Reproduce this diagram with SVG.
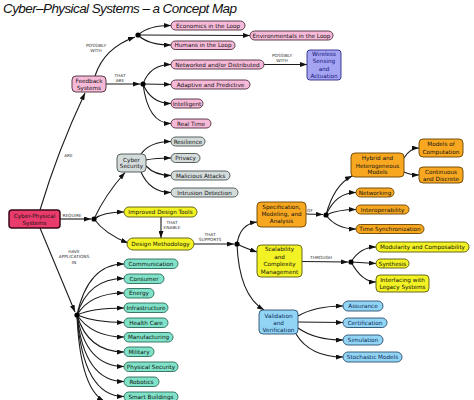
<svg xmlns="http://www.w3.org/2000/svg" width="474" height="400" viewBox="0 0 474 400">
<defs>
<marker id="ah" markerUnits="userSpaceOnUse" markerWidth="7" markerHeight="5" refX="7" refY="2.5" orient="auto"><path d="M0,0 L7,2.5 L0,5 z" fill="#111"/></marker>
<style>
text{font-family:"DejaVu Sans","Liberation Sans",sans-serif;font-size:5.7px;text-anchor:middle;fill:#111}
.lb{font-size:4.3px;fill:#333}
.ttl{font-family:"Liberation Sans",Arial,sans-serif;font-style:italic;font-size:13.5px;text-anchor:start;fill:#111}
.c path{fill:none;stroke:#1a1a1a;stroke-width:1.1;marker-end:url(#ah)}
.c circle{fill:#000}
.pk rect{fill:#f6bad8;stroke:#4a2a3a;stroke-width:0.9}
.lv rect{fill:#a4a4f2;stroke:#2a2a8a;stroke-width:0.9}
.lv text{fill:#15157a}
.gy rect{fill:#d3dbdb;stroke:#4a5050;stroke-width:0.9}
.cr rect{fill:#ea3c6c;stroke:#3a0a1a;stroke-width:1.5}
.yl rect{fill:#f2f224;stroke:#5a5a10;stroke-width:0.9}
.or rect{fill:#f8a820;stroke:#6a4200;stroke-width:0.9}
.lb2 rect{fill:#92d4f4;stroke:#2a5070;stroke-width:0.9}
.lb2 text{fill:#0a2a55}
.tl rect{fill:#80e2c8;stroke:#2a6a5a;stroke-width:0.9}
</style>
</defs>
<rect width="474" height="400" fill="#fff"/>
<text class="ttl" x="3" y="13" textLength="234">Cyber–Physical Systems – a Concept Map</text>

<g id="connectors" class="c">
<path d="M40,210 Q58,150 85,93"/>
<path d="M60,219 L91,219"/>
<path d="M40,228 L75,312"/>
<path d="M95,76 Q104,48 135,37"/>
<path d="M106,84 L140,84"/>
<path d="M138,35 Q148,25.5 171,25.5"/>
<path d="M138,35 L250,35.5"/>
<path d="M138,35 Q148,45 171,45"/>
<path d="M143,84 Q150,64.5 171,64.5"/>
<path d="M143,84 L171,84.5"/>
<path d="M143,84 Q151,103.5 171,103.5"/>
<path d="M143,84 Q148,123.5 171,123.5"/>
<path d="M264,64.5 L307,64.5"/>
<path d="M94,219 Q105,195 125,172.5"/>
<path d="M94,219 Q103,212 124,212"/>
<path d="M94,219 Q105,234 128,243"/>
<path d="M141,154 Q150,141.5 171,141.5"/>
<path d="M146,160 Q155,158 171,158"/>
<path d="M146,166 Q155,175.5 171,175.5"/>
<path d="M141,172 Q150,192.5 171,192.5"/>
<path d="M161,217 L161,238"/>
<path d="M194,244 L234,244"/>
<path d="M237,244 Q240,224 257,222"/>
<path d="M237,244 Q245,248 257,252"/>
<path d="M237,244 Q239,295 264,310"/>
<path d="M306,214 L323,214.5"/>
<path d="M326,215 Q334,185 352,176"/>
<path d="M326,215 Q336,192.5 356,192.5"/>
<path d="M326,215 Q338,209.5 356,209.5"/>
<path d="M326,215 Q336,229 356,229"/>
<path d="M404,158 Q410,148 419,148"/>
<path d="M404,172 Q410,175 419,175"/>
<path d="M302,261.5 L348,262"/>
<path d="M351,262 Q360,247 376,247"/>
<path d="M351,262 L376,263.5"/>
<path d="M351,262 Q362,282 376,282"/>
<path d="M298,316 Q315,306 343,306"/>
<path d="M298,322 L343,322.5"/>
<path d="M298,328 Q315,340 343,340"/>
<path d="M296,334 Q310,357 343,357"/>
<path d="M77,315 Q88,264 124,264"/>
<path d="M77,315 Q88,278.5 124,278.5"/>
<path d="M77,315 Q90,293 124,293"/>
<path d="M77,315 Q92,308 124,308"/>
<path d="M77,315 Q95,322.5 124,322.5"/>
<path d="M77,315 Q92,337 124,337"/>
<path d="M77,315 Q88,352 124,352"/>
<path d="M77,315 Q86,366.5 124,366.5"/>
<path d="M77,315 Q84,381.5 124,381.5"/>
<path d="M77,315 Q83,396.5 124,396.5"/>
<path d="M77,315 Q80,388 104,401"/>
<circle cx="138" cy="35" r="2.6"/>
<circle cx="143" cy="84" r="2.6"/>
<circle cx="94" cy="219" r="2.6"/>
<circle cx="237" cy="244" r="2.6"/>
<circle cx="326" cy="215" r="2.6"/>
<circle cx="351" cy="262" r="2.6"/>
<circle cx="77" cy="315" r="2.6"/>
</g>

<g id="labels">
<text class="lb" x="96" y="47">POSSIBLY</text><text class="lb" x="96" y="52">WITH</text>
<text class="lb" x="120" y="77">THAT</text><text class="lb" x="120" y="82">ARE</text>
<text class="lb" x="282" y="57">POSSIBLY</text><text class="lb" x="282" y="62">WITH</text>
<text class="lb" x="68.5" y="157">ARE</text>
<text class="lb" x="72" y="217">REQUIRE</text>
<text class="lb" x="172" y="223.5">THAT</text><text class="lb" x="172" y="228.5">ENABLE</text>
<text class="lb" x="210" y="236">THAT</text><text class="lb" x="210" y="241">SUPPORTS</text>
<text class="lb" x="74" y="253">HAVE</text><text class="lb" x="74" y="258">APPLICATIONS</text><text class="lb" x="74" y="264">IN</text>
<text class="lb" x="310" y="211.5">OF</text>
<text class="lb" x="321" y="259">THROUGH</text>
</g>

<g id="cps" class="cr"><rect x="9" y="210" width="51" height="18" rx="3"/><text x="34.5" y="218">Cyber-Physical</text><text x="34.5" y="224.7">Systems</text></g>

<g id="feedback" class="pk"><rect x="72" y="76" width="34" height="16" rx="4"/><text x="89" y="83">Feedback</text><text x="89" y="89.5">Systems</text></g>
<g id="economics" class="pk"><rect x="171" y="21" width="74" height="9" rx="4.5"/><text x="208" y="27.5">Economics in the Loop</text></g>
<g id="environmentals" class="pk"><rect x="250" y="31" width="83" height="9" rx="4.5"/><text x="291.5" y="37.5">Environmentals in the Loop</text></g>
<g id="humans" class="pk"><rect x="171" y="41" width="64" height="8.5" rx="4.25"/><text x="203" y="47.2">Humans in the Loop</text></g>
<g id="networked" class="pk"><rect x="171" y="60" width="93" height="9" rx="4.5"/><text x="217.5" y="66.5">Networked and/or Distributed</text></g>
<g id="adaptive" class="pk"><rect x="171" y="80" width="79" height="9" rx="4.5"/><text x="210.5" y="86.5">Adaptive and Predictive</text></g>
<g id="intelligent" class="pk"><rect x="171" y="99" width="32" height="9" rx="4.5"/><text x="187" y="105.5">Intelligent</text></g>
<g id="realtime" class="pk"><rect x="171" y="119" width="40" height="9" rx="4.5"/><text x="191" y="125.5">Real Time</text></g>
<g id="wireless" class="lv"><rect x="307" y="50" width="34" height="30" rx="3"/><text x="324" y="55.5">Wireless</text><text x="324" y="63">Sensing</text><text x="324" y="70.5">and</text><text x="324" y="78">Actuation</text></g>

<g id="cybersecurity" class="gy"><rect x="117" y="154" width="29" height="18" rx="4"/><text x="131.5" y="161.5">Cyber</text><text x="131.5" y="168.3">Security</text></g>
<g id="resilience" class="gy"><rect x="171" y="137" width="34" height="9" rx="4.5"/><text x="188" y="143.5">Resilience</text></g>
<g id="privacy" class="gy"><rect x="171" y="153.5" width="29" height="9" rx="4.5"/><text x="185.5" y="160">Privacy</text></g>
<g id="malicious" class="gy"><rect x="171" y="171" width="59" height="9" rx="4.5"/><text x="200.5" y="177.5">Malicious Attacks</text></g>
<g id="intrusion" class="gy"><rect x="171" y="188" width="67" height="9" rx="4.5"/><text x="204.5" y="194.5">Intrusion Detection</text></g>

<g id="improved" class="yl"><rect x="124" y="207" width="73" height="10" rx="5"/><text x="160.5" y="214">Improved Design Tools</text></g>
<g id="designmeth" class="yl"><rect x="127" y="238" width="67" height="12" rx="6"/><text x="160.5" y="246">Design Methodology</text></g>
<g id="scalability" class="yl"><rect x="257" y="245" width="45" height="32" rx="4"/><text x="279.5" y="251">Scalability</text><text x="279.5" y="258.5">and</text><text x="279.5" y="266">Complexity</text><text x="279.5" y="273.5">Management</text></g>
<g id="modularity" class="yl"><rect x="376" y="242" width="93" height="10" rx="5"/><text x="422.5" y="249">Modularity and Composability</text></g>
<g id="synthesis" class="yl"><rect x="376" y="259" width="33" height="9" rx="4.5"/><text x="392.5" y="265.5">Synthesis</text></g>
<g id="interfacing" class="yl"><rect x="376" y="275" width="53" height="17" rx="4"/><text x="402.5" y="282">Interfacing with</text><text x="402.5" y="289">Legacy Systems</text></g>

<g id="specification" class="or"><rect x="257" y="202" width="49" height="25" rx="4"/><text x="281.5" y="208.7">Specification,</text><text x="281.5" y="216">Modeling, and</text><text x="281.5" y="222.7">Analysis</text></g>
<g id="hybrid" class="or"><rect x="351" y="153" width="53" height="24" rx="4"/><text x="377.5" y="160.3">Hybrid and</text><text x="377.5" y="167.7">Heterogeneous</text><text x="377.5" y="174.3">Models</text></g>
<g id="models" class="or"><rect x="419" y="139" width="44" height="18" rx="4"/><text x="441" y="146">Models of</text><text x="441" y="154">Computation</text></g>
<g id="continuous" class="or"><rect x="419" y="167" width="44" height="16" rx="4"/><text x="441" y="174">Continuous</text><text x="441" y="181">and Discrete</text></g>
<g id="networking" class="or"><rect x="356" y="188" width="38" height="9" rx="4.5"/><text x="375" y="194.5">Networking</text></g>
<g id="interoperability" class="or"><rect x="356" y="205" width="53" height="9" rx="4.5"/><text x="382.5" y="211.5">Interoperability</text></g>
<g id="timesync" class="or"><rect x="356" y="224.5" width="68" height="9" rx="4.5"/><text x="390" y="231">Time Synchronization</text></g>

<g id="validation" class="lb2"><rect x="259" y="310" width="39" height="24" rx="4"/><text x="278.5" y="317.7">Validation</text><text x="278.5" y="324.7">and</text><text x="278.5" y="332">Verification</text></g>
<g id="assurance" class="lb2"><rect x="343" y="301" width="40" height="10" rx="5"/><text x="363" y="308">Assurance</text></g>
<g id="certification" class="lb2"><rect x="343" y="318" width="44" height="9.5" rx="4.75"/><text x="365" y="324.7">Certification</text></g>
<g id="simulation" class="lb2"><rect x="343" y="335" width="40" height="10" rx="5"/><text x="363" y="342">Simulation</text></g>
<g id="stochastic" class="lb2"><rect x="343" y="352" width="59" height="10" rx="5"/><text x="372.5" y="359">Stochastic Models</text></g>

<g id="communication" class="tl"><rect x="124" y="259" width="54" height="9.5" rx="4.75"/><text x="151" y="265.8">Communication</text></g>
<g id="consumer" class="tl"><rect x="124" y="274" width="40" height="9.5" rx="4.75"/><text x="144" y="280.8">Consumer</text></g>
<g id="energy" class="tl"><rect x="124" y="288.5" width="30" height="9.5" rx="4.75"/><text x="139" y="295.3">Energy</text></g>
<g id="infrastructure" class="tl"><rect x="124" y="303" width="44" height="9.5" rx="4.75"/><text x="146" y="309.8">Infrastructure</text></g>
<g id="healthcare" class="tl"><rect x="124" y="318" width="44" height="9.5" rx="4.75"/><text x="146" y="324.8">Health Care</text></g>
<g id="manufacturing" class="tl"><rect x="124" y="332.5" width="49" height="9.5" rx="4.75"/><text x="148.5" y="339.3">Manufacturing</text></g>
<g id="military" class="tl"><rect x="124" y="347" width="30" height="9.5" rx="4.75"/><text x="139" y="353.8">Military</text></g>
<g id="physical" class="tl"><rect x="124" y="362" width="54" height="9.5" rx="4.75"/><text x="151" y="368.8">Physical Security</text></g>
<g id="robotics" class="tl"><rect x="124" y="377" width="35" height="9.5" rx="4.75"/><text x="141.5" y="383.8">Robotics</text></g>
<g id="smartbuildings" class="tl"><rect x="124" y="392" width="54" height="9.5" rx="4.75"/><text x="151" y="398.8">Smart Buildings</text></g>
</svg>
